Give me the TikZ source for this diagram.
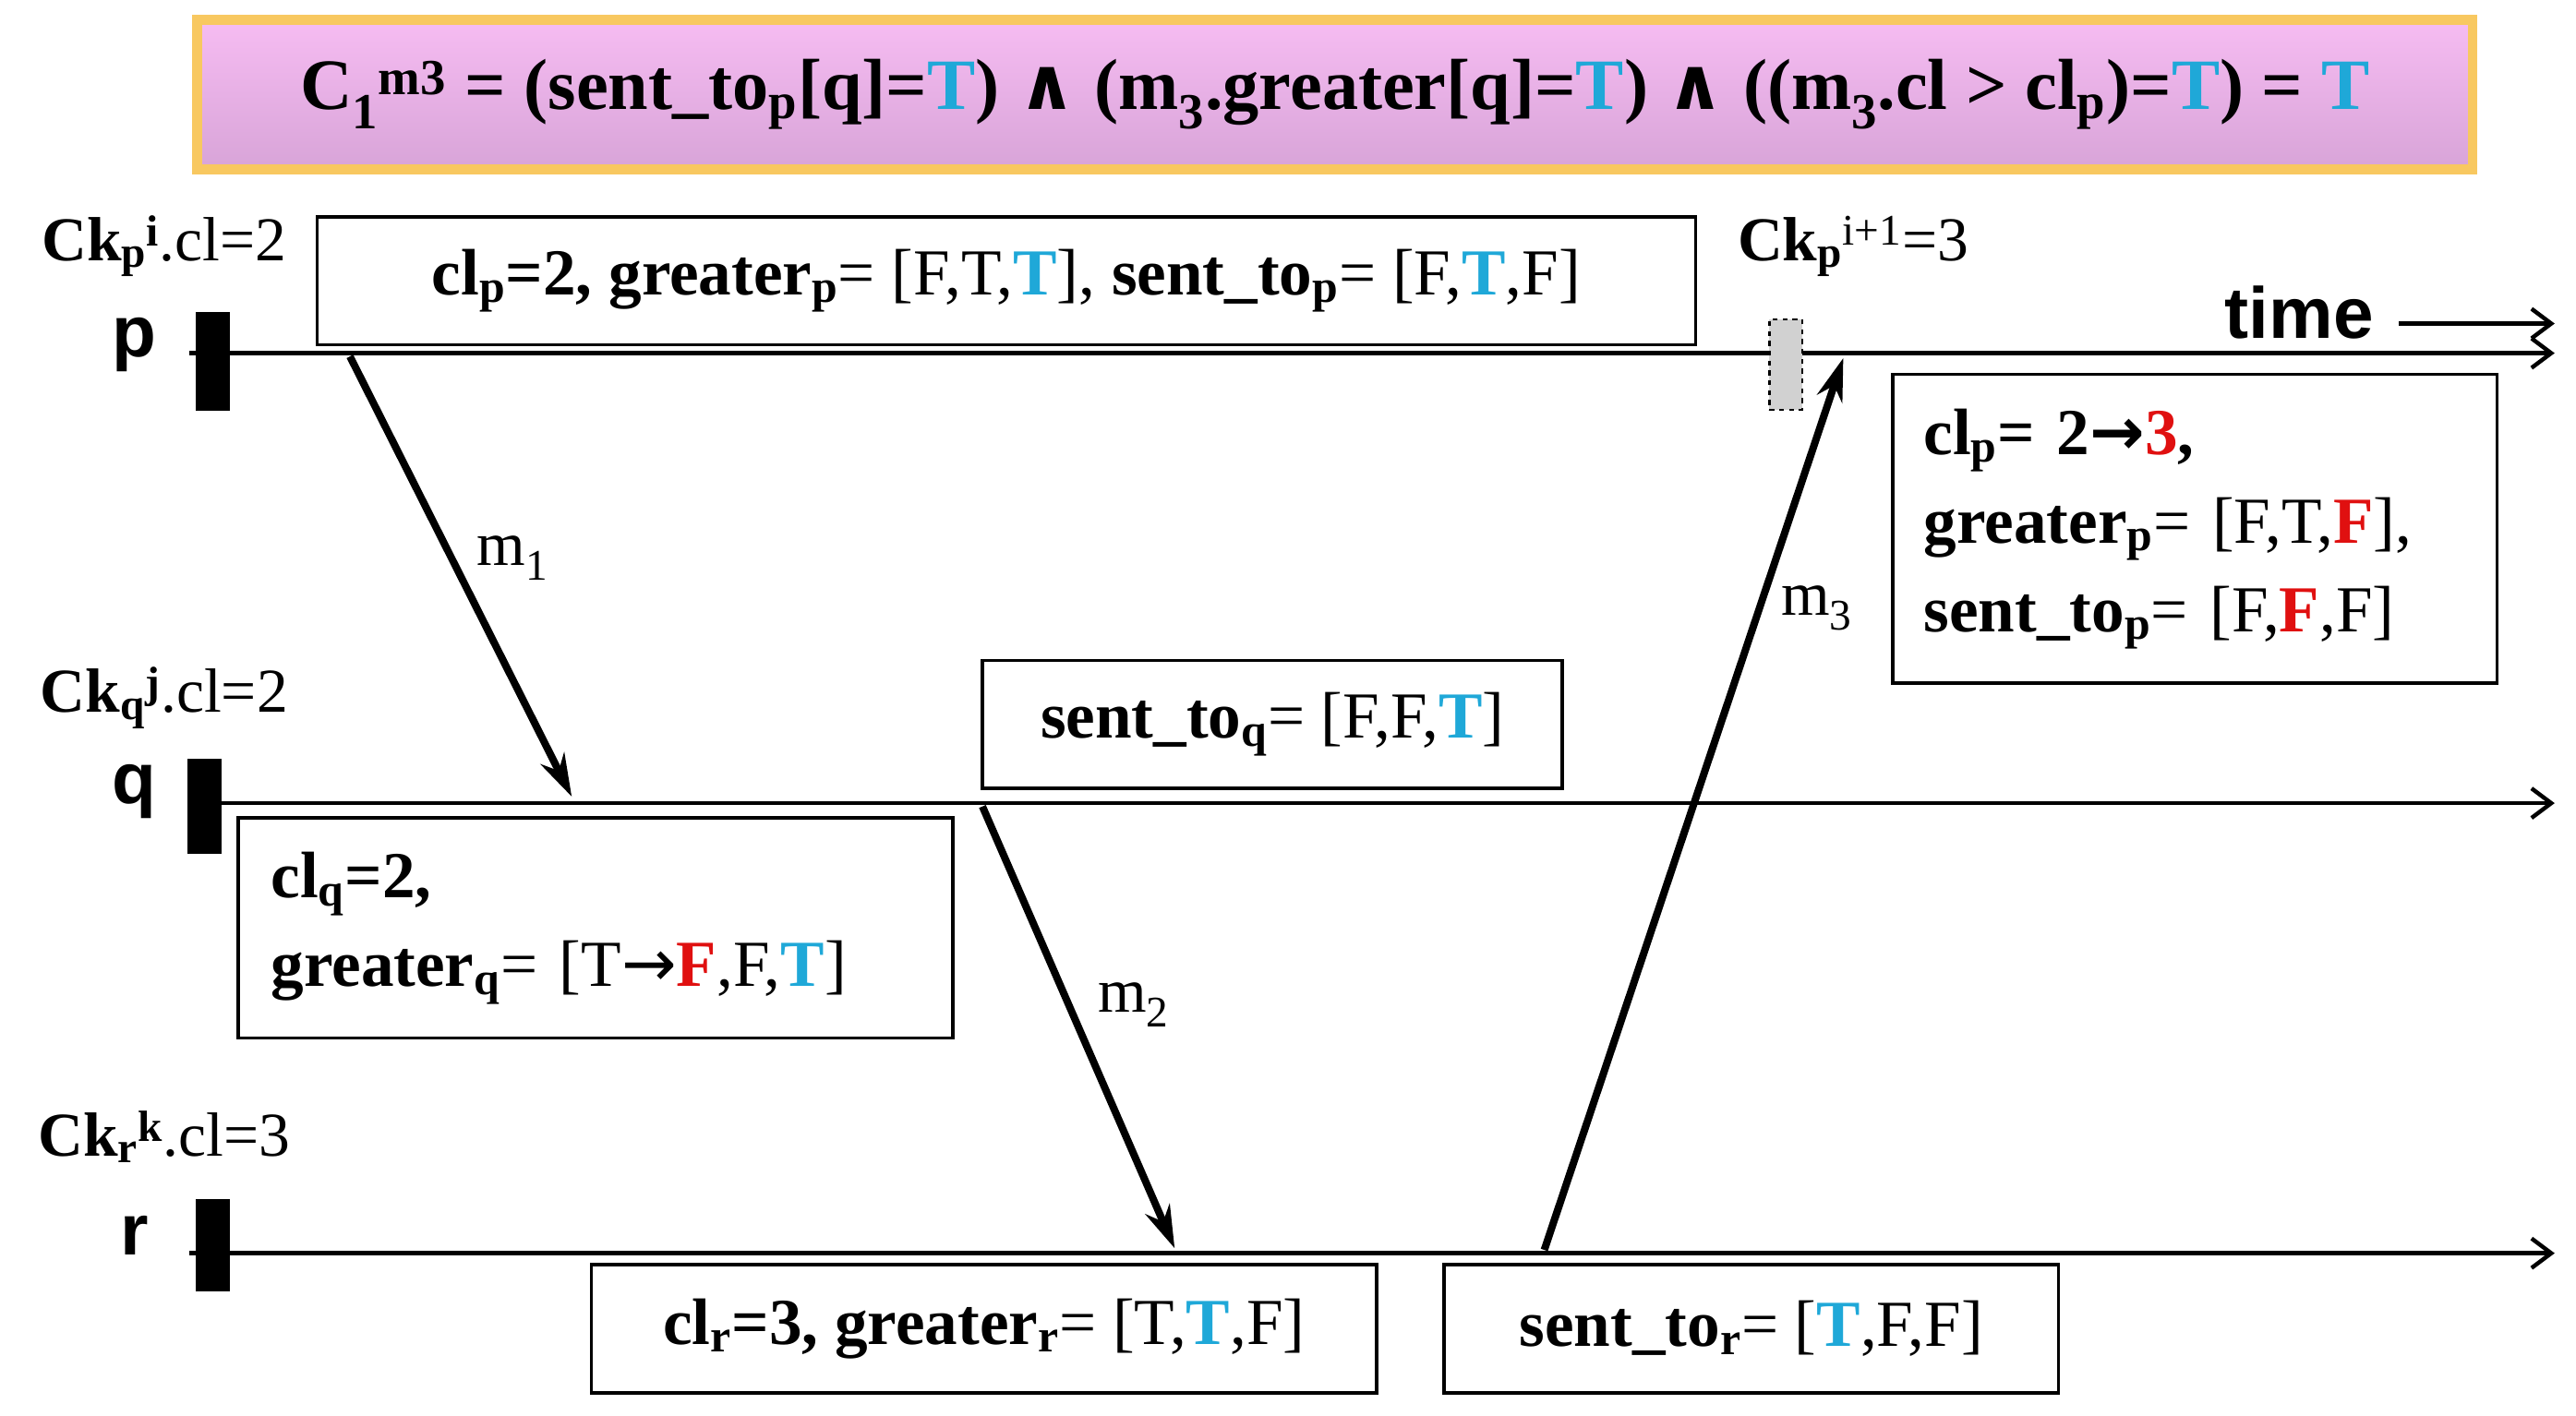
\documentclass[tikz,border=0pt]{standalone}
\usepackage{fontspec}
\setmainfont{Liberation Serif}
\newfontfamily\arial{Liberation Sans}
\newfontfamily\dvs{DejaVu Sans}
\usetikzlibrary{arrows.meta}
\definecolor{cy}{HTML}{1FA8D8}
\definecolor{rd}{HTML}{E01010}
\definecolor{pk1}{HTML}{F6BCF2}
\definecolor{pk2}{HTML}{D8A4D8}
\definecolor{org}{HTML}{F8C860}
\newcommand\cT{\textcolor{cy}{\textbf{T}}}
\newcommand\rF{\textcolor{rd}{\textbf{F}}}
\newcommand\sub[1]{\textsubscript{#1}}
\newcommand\arr{{\dvs →}}
\newcommand\wedg{{\dvs\bfseries ∧}}
\tikzset{
  box/.style={draw,line width=2pt,fill=white,inner sep=0pt,font=\fontsize{40}{54}\selectfont,align=left},
  tl/.style={line width=2.5pt,-{Straight Barb[length=12pt,width=18pt,line width=2.5pt]}},
  msg/.style={line width=4.5pt,-{Stealth[length=26pt,width=16pt]}},
  bar/.style={fill=black},
  lbl/.style={font=\fontsize{38}{40}\selectfont,inner sep=0pt},
  pl/.style={font=\arial\bfseries\fontsize{44}{44}\selectfont,inner sep=0pt}
}
\begin{document}
\begin{tikzpicture}[x=1pt,y=-1pt]
\useasboundingbox (0,0) rectangle (1568,862);
% banner
\node[draw=org,line width=6pt,top color=pk1,bottom color=pk2,minimum width=1385pt,minimum height=91pt,inner sep=0pt] (ban) at (812.5,57.5)
 {\fontsize{44}{44}\selectfont\bfseries C\sub{1}\textsuperscript{m3} = (sent\_to\sub{p}[q]=\textcolor{cy}{T}) \wedg{} (m\sub{3}.greater[q]=\textcolor{cy}{T}) \wedg{} ((m\sub{3}.cl > cl\sub{p})=\textcolor{cy}{T}) = \textcolor{cy}{T}};
% timelines
\coordinate (ps) at (115,215); \coordinate (pe) at (1555,215);
\coordinate (qs) at (115,489); \coordinate (qe) at (1555,489);
\coordinate (rs) at (115,763); \coordinate (re) at (1555,763);
\draw[tl] (ps) -- (pe);
\draw[tl] (qs) -- (qe);
\draw[tl] (rs) -- (re);
\coordinate (ts) at (1460,197); \coordinate (te) at (1555,197);
\draw[tl] (ts) -- (te);
\node[pl,anchor=east] (time) at (1445,190) {time};
% bars
\fill[bar] (119,190) rectangle (140,250);
\fill[bar] (114,462) rectangle (135,520);
\fill[bar] (119,730) rectangle (140,786);
\node[pl] (pL) at (82,210) {p};
\node[pl] (qL) at (82,482) {q};
\node[pl] (rL) at (82,752) {r};
\node[draw,dashed,fill=black!18,line width=1.5pt,minimum width=20pt,minimum height=55pt,inner sep=0pt] (ck) at (1087,222) {};
% Ck labels
\node[lbl] (ckp) at (100,150) {\textbf{Ck}\sub{\textbf{p}}\textsuperscript{\textbf{i}}.cl=2};
\node[lbl] (ckq) at (100,425) {\textbf{Ck}\sub{\textbf{q}}\textsuperscript{\textbf{j}}.cl=2};
\node[lbl] (ckr) at (100,692) {\textbf{Ck}\sub{\textbf{r}}\textsuperscript{\textbf{k}}.cl=3};
\node[lbl] (ckp2) at (1128,150) {\textbf{Ck}\sub{\textbf{p}}\textsuperscript{i+1}=3};
% boxes
\node[box,minimum width=839pt,minimum height=78pt,align=center] (b1) at (612.5,171) {\textbf{cl\sub{p}=2, greater\sub{p}}= [F,T,\cT], \textbf{sent\_to\sub{p}}= [F,\cT,F]};
\node[box,minimum width=368pt,minimum height=188pt,text width=330pt] (b2) at (1336,322) {\textbf{cl\sub{p}= 2\arr\textcolor{rd}{3},}\\\textbf{greater\sub{p}}= [F,T,\rF],\\\textbf{sent\_to\sub{p}}= [F,\rF,F]};
\node[box,minimum width=353pt,minimum height=78pt,align=center] (b3) at (774.5,441) {\textbf{sent\_to\sub{q}}= [F,F,\cT]};
\node[box,minimum width=435pt,minimum height=134pt,text width=395pt] (b4) at (362.5,565) {\textbf{cl\sub{q}=2,}\\\textbf{greater\sub{q}}= [T\arr\rF,F,\cT]};
\node[box,minimum width=478pt,minimum height=78pt,align=center] (b5) at (599,809) {\textbf{cl\sub{r}=3, greater\sub{r}}= [T,\cT,F]};
\node[box,minimum width=374pt,minimum height=78pt,align=center] (b6) at (1066,809) {\textbf{sent\_to\sub{r}}= [\cT,F,F]};
% messages
\coordinate (m1s) at (213,217); \coordinate (m1e) at (348,485);
\coordinate (m2s) at (598,491); \coordinate (m2e) at (715,760);
\coordinate (m3s) at (940,761); \coordinate (m3e) at (1122,218);
\draw[msg] (m1s) -- (m1e);
\draw[msg] (m2s) -- (m2e);
\draw[msg] (m3s) -- (m3e);
\node[lbl] (l1) at (312,340) {m\sub{1}};
\node[lbl] (l2) at (690,612) {m\sub{2}};
\node[lbl] (l3) at (1106,370) {m\sub{3}};
\end{tikzpicture}
\end{document}
